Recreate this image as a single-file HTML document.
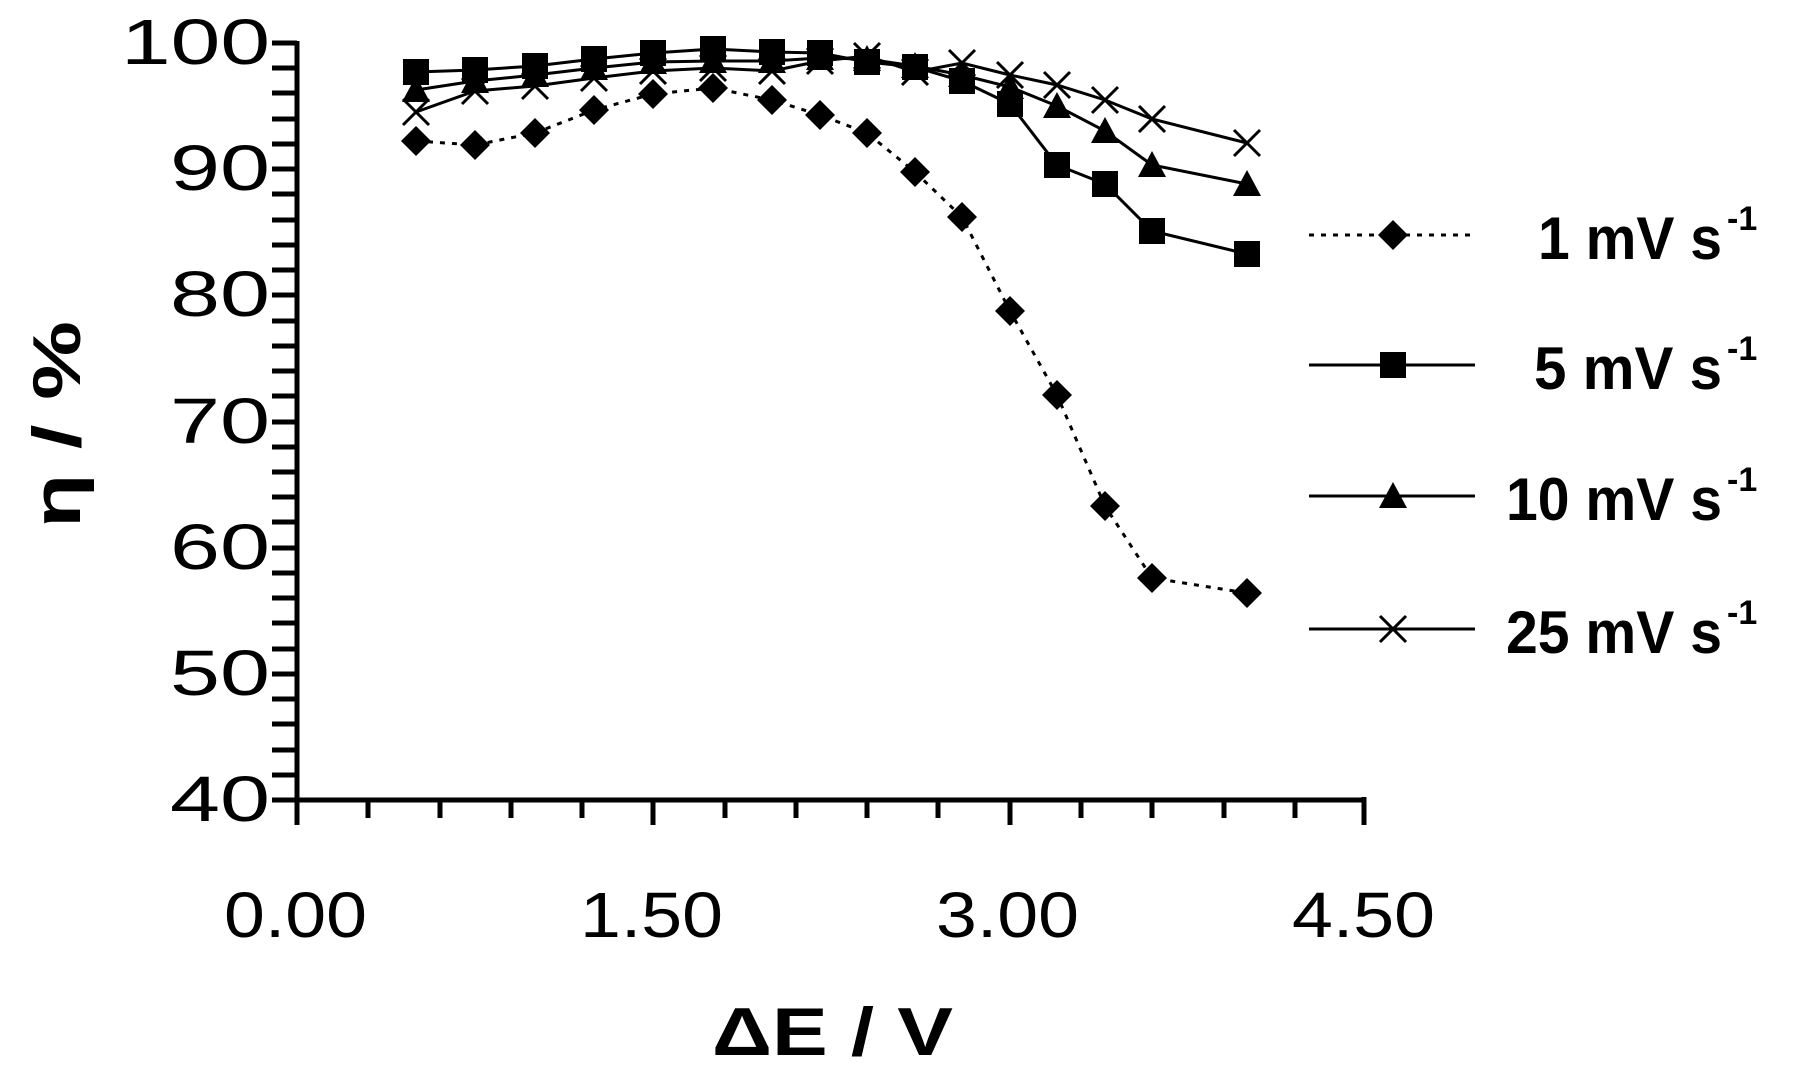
<!DOCTYPE html>
<html><head><meta charset="utf-8"><style>
html,body{margin:0;padding:0;background:#fff;}
svg{display:block;}
text{font-family:"Liberation Sans",sans-serif;fill:#000;}
</style></head><body>
<svg width="1800" height="1080" viewBox="0 0 1800 1080" xmlns="http://www.w3.org/2000/svg">
<defs>
<path id="dia" d="M0,-15 L15,0 L0,15 L-15,0 Z" fill="#000"/>
<rect id="sq" x="-13" y="-13" width="26" height="26" fill="#000"/>
<path id="tri" d="M0,-14 L14,12 L-14,12 Z" fill="#000"/>
<path id="xx" d="M-13,-13 L13,13 M13,-13 L-13,13" stroke="#000" stroke-width="3" fill="none"/>
</defs>
<g stroke="#000" stroke-width="5" fill="none">
<line x1="297" y1="41" x2="297" y2="825"/>
<line x1="272" y1="800" x2="1364" y2="800"/>
<path d="M272,43H297 M272,68H297 M272,93H297 M272,119H297 M272,144H297 M272,169H297 M272,194H297 M272,220H297 M272,245H297 M272,270H297 M272,295H297 M272,321H297 M272,346H297 M272,371H297 M272,396H297 M272,422H297 M272,447H297 M272,472H297 M272,497H297 M272,522H297 M272,548H297 M272,573H297 M272,598H297 M272,623H297 M272,649H297 M272,674H297 M272,699H297 M272,724H297 M272,750H297 M272,775H297"/>
<path d="M368,800V818 M440,800V818 M511,800V818 M582,800V818 M653,800V825 M725,800V818 M796,800V818 M867,800V818 M938,800V818 M1010,800V825 M1081,800V818 M1152,800V818 M1224,800V818 M1295,800V818 M1364,797V825"/>
</g>
<g font-size="64">
<text x="121" y="64" textLength="149" lengthAdjust="spacingAndGlyphs">100</text>
<text x="170" y="190" textLength="100" lengthAdjust="spacingAndGlyphs">90</text>
<text x="170" y="316" textLength="100" lengthAdjust="spacingAndGlyphs">80</text>
<text x="170" y="443" textLength="100" lengthAdjust="spacingAndGlyphs">70</text>
<text x="170" y="569" textLength="100" lengthAdjust="spacingAndGlyphs">60</text>
<text x="170" y="695" textLength="100" lengthAdjust="spacingAndGlyphs">50</text>
<text x="170" y="821" textLength="100" lengthAdjust="spacingAndGlyphs">40</text>
</g>
<g font-size="64">
<text x="224" y="937" textLength="143" lengthAdjust="spacingAndGlyphs">0.00</text>
<text x="580" y="937" textLength="143" lengthAdjust="spacingAndGlyphs">1.50</text>
<text x="936" y="937" textLength="143" lengthAdjust="spacingAndGlyphs">3.00</text>
<text x="1292" y="937" textLength="143" lengthAdjust="spacingAndGlyphs">4.50</text>
</g>
<text x="712" y="1055" font-size="68" font-weight="bold" textLength="241" lengthAdjust="spacingAndGlyphs">ΔE / V</text>
<text transform="translate(80,528) rotate(-90)" font-size="68" font-weight="bold" textLength="207" lengthAdjust="spacingAndGlyphs">η / %</text>

<g fill="none" stroke="#000" stroke-width="3">
<polyline stroke-dasharray="5,7" points="416,141 475,145 535,133 594,110 653,94 713,88 772,100 820,115 867,133 915,172 962,217 1010,311 1057,395 1105,506 1152,578 1247,593"/>
<polyline points="416,72 475,70 535,66 594,59 653,53 713,49 772,52 820,53 867,62 915,67 962,81 1010,104 1057,165 1105,184 1152,231 1247,254"/>
<polyline points="416,90 475,81 535,75 594,68 653,62 713,61 772,61 820,58 867,59 915,66 962,75 1010,87 1057,106 1105,131 1152,165 1247,184"/>
<polyline points="416,112 475,91 535,86 594,78 653,71 713,68 772,71 820,61 867,56 915,72 962,63 1010,75 1057,85 1105,100 1152,119 1247,143"/>
</g>
<g>
<use href="#xx" x="416" y="112"/><use href="#xx" x="475" y="91"/><use href="#xx" x="535" y="86"/><use href="#xx" x="594" y="78"/><use href="#xx" x="653" y="71"/><use href="#xx" x="713" y="68"/><use href="#xx" x="772" y="71"/><use href="#xx" x="820" y="61"/><use href="#xx" x="867" y="56"/><use href="#xx" x="915" y="72"/><use href="#xx" x="962" y="63"/><use href="#xx" x="1010" y="75"/><use href="#xx" x="1057" y="85"/><use href="#xx" x="1105" y="100"/><use href="#xx" x="1152" y="119"/><use href="#xx" x="1247" y="143"/>
<use href="#tri" x="416" y="90"/><use href="#tri" x="475" y="81"/><use href="#tri" x="535" y="75"/><use href="#tri" x="594" y="68"/><use href="#tri" x="653" y="62"/><use href="#tri" x="713" y="61"/><use href="#tri" x="772" y="61"/><use href="#tri" x="820" y="58"/><use href="#tri" x="867" y="59"/><use href="#tri" x="915" y="66"/><use href="#tri" x="962" y="75"/><use href="#tri" x="1010" y="87"/><use href="#tri" x="1057" y="106"/><use href="#tri" x="1105" y="131"/><use href="#tri" x="1152" y="165"/><use href="#tri" x="1247" y="184"/>
<use href="#sq" x="416" y="72"/><use href="#sq" x="475" y="70"/><use href="#sq" x="535" y="66"/><use href="#sq" x="594" y="59"/><use href="#sq" x="653" y="53"/><use href="#sq" x="713" y="49"/><use href="#sq" x="772" y="52"/><use href="#sq" x="820" y="53"/><use href="#sq" x="867" y="62"/><use href="#sq" x="915" y="67"/><use href="#sq" x="962" y="81"/><use href="#sq" x="1010" y="104"/><use href="#sq" x="1057" y="165"/><use href="#sq" x="1105" y="184"/><use href="#sq" x="1152" y="231"/><use href="#sq" x="1247" y="254"/>
<use href="#dia" x="416" y="141"/><use href="#dia" x="475" y="145"/><use href="#dia" x="535" y="133"/><use href="#dia" x="594" y="110"/><use href="#dia" x="653" y="94"/><use href="#dia" x="713" y="88"/><use href="#dia" x="772" y="100"/><use href="#dia" x="820" y="115"/><use href="#dia" x="867" y="133"/><use href="#dia" x="915" y="172"/><use href="#dia" x="962" y="217"/><use href="#dia" x="1010" y="311"/><use href="#dia" x="1057" y="395"/><use href="#dia" x="1105" y="506"/><use href="#dia" x="1152" y="578"/><use href="#dia" x="1247" y="593"/>
</g>

<g stroke="#000" stroke-width="3">
<line x1="1309" y1="235" x2="1475" y2="235" stroke-dasharray="5,7"/>
<line x1="1309" y1="365" x2="1475" y2="365"/>
<line x1="1309" y1="496" x2="1475" y2="496"/>
<line x1="1309" y1="629" x2="1475" y2="629"/>
</g>
<use href="#dia" x="1393" y="235"/>
<use href="#sq" x="1393" y="365"/>
<use href="#tri" x="1393" y="496"/>
<use href="#xx" x="1393" y="629"/>
<g font-size="60" font-weight="bold">
<text x="1538" y="259" textLength="184" lengthAdjust="spacingAndGlyphs">1 mV s</text>
<text x="1534" y="389" textLength="188" lengthAdjust="spacingAndGlyphs">5 mV s</text>
<text x="1506" y="520" textLength="216" lengthAdjust="spacingAndGlyphs">10 mV s</text>
<text x="1506" y="653" textLength="216" lengthAdjust="spacingAndGlyphs">25 mV s</text>
</g>
<g font-size="34" font-weight="bold">
<text x="1727" y="230">-1</text>
<text x="1727" y="360">-1</text>
<text x="1727" y="491">-1</text>
<text x="1727" y="624">-1</text>
</g>
</svg>
</body></html>
